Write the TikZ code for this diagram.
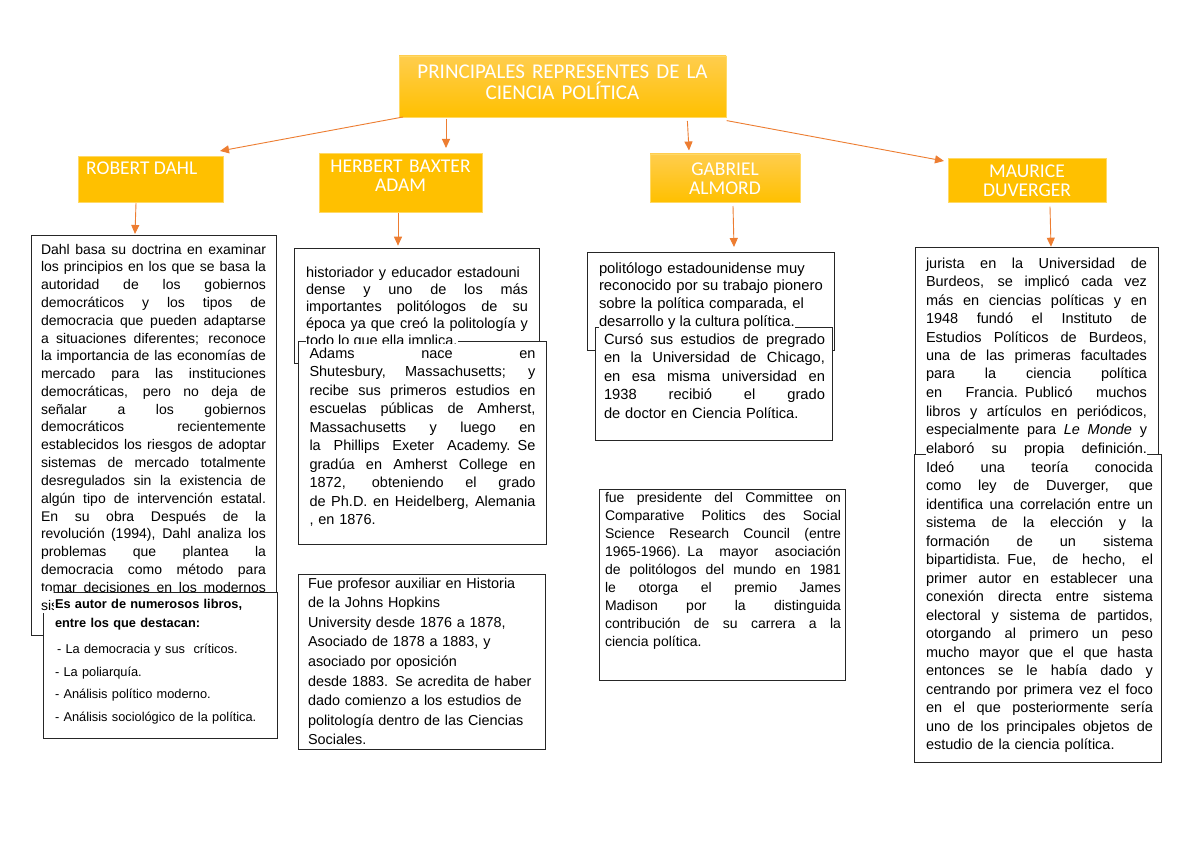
\documentclass[tikz,border=0pt]{standalone}
\usepackage{fontspec}
\setmainfont{Liberation Sans}
\newfontfamily\headfont{Carlito}
\usetikzlibrary{arrows.meta}
\definecolor{gold}{HTML}{FFC000}
\definecolor{goldlight}{HTML}{FFCD4D}
\definecolor{goldedge}{HTML}{FFD966}
\definecolor{arrowc}{HTML}{ED7D31}
\newlength\Jw
\newcommand\J[1]{\leavevmode\hbox to \Jw{\spaceskip=.278em plus 1fil minus .1em\relax #1}}
\begin{document}
\begin{tikzpicture}[x=1pt,y=-1pt,
  hbox/.style={fill=gold, draw=goldedge, line width=0.6pt, inner sep=0pt, outer sep=0pt, anchor=north west},
  tbox/.style={draw=black!85, line width=0.8pt, fill=white, inner sep=0pt, outer sep=0pt, anchor=north west},
  txt/.style={inner sep=0pt, outer sep=0pt, anchor=base west, align=left},
  arr/.style={draw=arrowc, line width=0.9pt, -{Triangle[length=9pt,width=8pt]}},
  head/.style={inner sep=0pt, anchor=base, align=center, text=white, font=\headfont\fontsize{19.5}{19}\selectfont}
]
\useasboundingbox (0,0) rectangle (1200,848);
\fill[white] (0,0) rectangle (1200,848);

% heading boxes
\node[hbox, top color=goldlight, bottom color=gold, minimum width=327pt, minimum height=61pt] (top) at (399,56) {};
\node[hbox, minimum width=145pt, minimum height=46pt] (dahlN) at (78,156) {};
\node[hbox, minimum width=163pt, minimum height=59pt] (herbN) at (319,153) {};
\node[hbox, top color=goldlight, bottom color=gold, minimum width=150pt, minimum height=48pt] (gabN) at (650,154) {};
\node[hbox, minimum width=158pt, minimum height=44pt] (mauN) at (948,158) {};

\node[head, text width=327pt, font=\headfont\fontsize{21}{20.6}\selectfont] (topT) at (562.5,78.5) {PRINCIPALES REPRESENTES DE LA\\CIENCIA POLÍTICA};
\node[head, anchor=base west, align=left] (dahlT) at (86,174.3) {ROBERT DAHL};
\node[head, text width=163pt] (herbT) at (400.5,172.3) {HERBERT BAXTER\\ADAM};
\node[head, text width=150pt] (gabT) at (725,175.6) {GABRIEL\\ALMORD};
\node[head, text width=158pt] (mauT) at (1027,177.3) {MAURICE\\DUVERGER};

% ---- Dahl column
\node[tbox, minimum width=245pt, minimum height=400pt] (dahlB) at (31,235) {};
\node[txt, text width=225pt, font=\fontsize{14}{17.8}\selectfont] (dahlX) at (41,254) {%
\setlength\Jw{225pt}%
\J{Dahl basa su doctrina en examinar}\\
\J{los principios en los que se basa la}\\
\J{autoridad de los gobiernos}\\
\J{democráticos y los tipos de}\\
\J{democracia que pueden adaptarse}\\
\J{a situaciones diferentes; reconoce}\\
\J{la importancia de las economías de}\\
\J{mercado para las instituciones}\\
\J{democráticas, pero no deja de}\\
\J{señalar a los gobiernos}\\
\J{democráticos recientemente}\\
\J{establecidos los riesgos de adoptar}\\
\J{sistemas de mercado totalmente}\\
\J{desregulados sin la existencia de}\\
\J{algún tipo de intervención estatal.}\\
\J{En su obra Después de la}\\
\J{revolución (1994), Dahl analiza los}\\
\J{problemas que plantea la}\\
\J{democracia como método para}\\
\J{tomar decisiones en los modernos}};
\node[tbox, minimum width=234pt, minimum height=146pt] (booksB) at (43,592) {};
\begin{scope}
\clip (38,590.5) rectangle (53.5,613);
\fill[white] (38,590.5) rectangle (53.5,613);
\node[txt, font=\fontsize{14}{17.8}\selectfont] (dahlL) at (41,610) {sistemas};
\end{scope}
\node[txt, text width=225pt, font=\fontsize{12.8}{19}\selectfont] (booksX) at (55,608.5) {%
\textbf{Es autor de numerosos libros,}\\
\textbf{entre los que destacan:}\\[7pt]
\hspace*{2pt}- La democracia y sus\ \ críticos.\\[3.5pt]
- La poliarquía.\\[3.5pt]
- Análisis político moderno.\\[3.5pt]
- Análisis sociológico de la política.};

% ---- Herbert column
\node[tbox, minimum width=245pt, minimum height=115pt] (herb1) at (294,248) {};
\node[txt, text width=222pt, font=\fontsize{14.5}{17}\selectfont] (herb1X) at (306,277) {%
\setlength\Jw{214pt}%
\J{historiador y educador estadouni}\\
\setlength\Jw{222pt}%
\J{dense y uno de los más}\\
\J{importantes politólogos de su}\\
\J{época ya que creó la politología y}};
\node[tbox, minimum width=248pt, minimum height=203pt] (adamsB) at (298,341) {};
\begin{scope}
\clip (300,328) rectangle (480,343.5);
\node[txt, fill=white, font=\fontsize{14.5}{17}\selectfont] (herb1L) at (306,345) {todo lo que ella implica.};
\end{scope}
\node[txt, text width=226pt, font=\fontsize{14.5}{18.5}\selectfont] (adamsX) at (309.5,358.3) {%
\setlength\Jw{226pt}%
\J{Adams nace en}\\
\J{Shutesbury, Massachusetts; y}\\
\J{recibe sus primeros estudios en}\\
\J{escuelas públicas de Amherst,}\\
\J{Massachusetts y luego en}\\
\J{la Phillips Exeter Academy. Se}\\
\J{gradúa en Amherst College en}\\
\J{1872, obteniendo el grado}\\
\J{de Ph.D. en Heidelberg, Alemania}\\
, en 1876.};
\node[tbox, minimum width=247pt, minimum height=175pt] (fueB) at (298,574) {};
\node[txt, text width=236pt, font=\fontsize{14.4}{19.6}\selectfont] (fueX) at (308,588) {%
Fue profesor auxiliar en Historia\\
de la Johns Hopkins\\
University desde 1876 a 1878,\\
Asociado de 1878 a 1883, y\\
asociado por oposición\\
desde 1883. Se acredita de haber\\
dado comienzo a los estudios de\\
politología dentro de las Ciencias\\
Sociales.};

% ---- Gabriel column
\node[tbox, minimum width=247pt, minimum height=98pt] (gab1) at (587,252) {};
\node[txt, text width=232pt, font=\fontsize{14.8}{17.9}\selectfont] (gab1X) at (599,273) {%
politólogo estadounidense muy\\
reconocido por su trabajo pionero\\
sobre la política comparada, el};
\node[tbox, minimum width=237pt, minimum height=113pt] (cursoB) at (595,327) {};
\node[txt, fill=white, font=\fontsize{14.8}{17.9}\selectfont] (gab1L) at (599,326.7) {desarrollo y la cultura política.};
\node[txt, text width=221pt, font=\fontsize{14.7}{18.5}\selectfont] (cursoX) at (604,344) {%
\setlength\Jw{221pt}%
\J{Cursó sus estudios de pregrado}\\
\J{en la Universidad de Chicago,}\\
\J{en esa misma universidad en}\\
\J{1938 recibió el grado}\\
de doctor en Ciencia Política.};
\node[tbox, minimum width=246pt, minimum height=191pt] (gab2) at (599,489) {};
\node[txt, text width=236pt, font=\fontsize{14}{18.1}\selectfont] (gab2X) at (605,502) {%
\setlength\Jw{236pt}%
\J{fue presidente del Committee on}\\
\J{Comparative Politics des Social}\\
\J{Science Research Council (entre}\\
\J{1965-1966). La mayor asociación}\\
\J{de politólogos del mundo en 1981}\\
\J{le otorga el premio James}\\
\J{Madison por la distinguida}\\
\J{contribución de su carrera a la}\\
ciencia política.};

% ---- Duverger column
\node[tbox, minimum width=243pt, minimum height=207pt] (duv1) at (915,247) {};
\node[txt, text width=221pt, font=\fontsize{14.5}{18.5}\selectfont] (duv1X) at (926,268) {%
\setlength\Jw{221pt}%
\J{jurista en la Universidad de}\\
\J{Burdeos, se implicó cada vez}\\
\J{más en ciencias políticas y en}\\
\J{1948 fundó el Instituto de}\\
\J{Estudios Políticos de Burdeos,}\\
\J{una de las primeras facultades}\\
\J{para la ciencia política}\\
\J{en Francia. Publicó muchos}\\
\J{libros y artículos en periódicos,}\\
\J{especialmente para \textit{Le Monde} y}};
\node[tbox, minimum width=247pt, minimum height=308pt] (duv2) at (914,454) {};
\node[txt, fill=white, text width=221pt, font=\fontsize{14.5}{18.5}\selectfont] (duv1L) at (926,453) {\setlength\Jw{221pt}\J{elaboró su propia definición.}};
\node[txt, text width=227pt, font=\fontsize{14.5}{18.5}\selectfont] (duv2X) at (926,472) {%
\setlength\Jw{227pt}%
\J{Ideó una teoría conocida}\\
\J{como ley de Duverger, que}\\
\J{identifica una correlación entre un}\\
\J{sistema de la elección y la}\\
\J{formación de un sistema}\\
\J{bipartidista. Fue, de hecho, el}\\
\J{primer autor en establecer una}\\
\J{conexión directa entre sistema}\\
\J{electoral y sistema de partidos,}\\
\J{otorgando al primero un peso}\\
\J{mucho mayor que el que hasta}\\
\J{entonces se le había dado y}\\
\J{centrando por primera vez el foco}\\
\J{en el que posteriormente sería}\\
\J{uno de los principales objetos de}\\
estudio de la ciencia política.};

% ---- connectors
\draw[arr] ([xshift=4pt]top.south west) -- ([xshift=-3pt,yshift=5pt]dahlN.north east);
\draw[arr] ([xshift=47pt,yshift=-2pt]top.south west) -- ([xshift=127pt,yshift=5pt]herbN.north west);
\draw[arr] ([xshift=288.4pt,yshift=-4pt]top.south west) -- ([xshift=39pt,yshift=3.5pt]gabN.north west);
\draw[arr] ([xshift=0.7pt,yshift=-3.6pt]top.south east) -- ([xshift=-4pt,yshift=-3pt]mauN.north west);
\draw[arr] ([xshift=58pt,yshift=-1pt]dahlN.south west) -- ([xshift=104pt,yshift=1pt]dahlB.north west);
\draw[arr] ([xshift=79pt,yshift=-1pt]herbN.south west) -- ([xshift=104pt,yshift=2.3pt]herb1.north west);
\draw[arr] ([xshift=83pt,yshift=-4pt]gabN.south west) -- ([xshift=147pt,yshift=5pt]gab1.north west);
\draw[arr] ([xshift=102pt,yshift=-4.7pt]mauN.south west) -- ([xshift=136pt,yshift=0.3pt]duv1.north west);
\end{tikzpicture}
\end{document}
